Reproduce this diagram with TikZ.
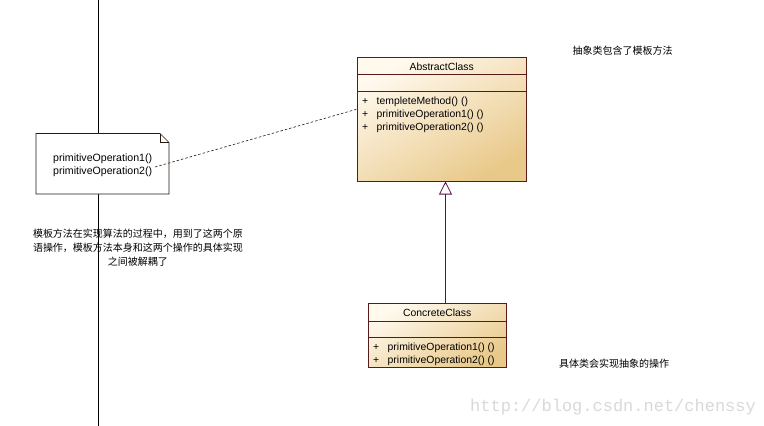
\documentclass[tikz,border=0pt]{standalone}
\usepackage{fontspec}
\setmainfont{Liberation Sans}
\newfontfamily\cjk{Noto Sans CJK SC}
\newfontfamily\wmfont{Liberation Mono}
\usetikzlibrary{arrows.meta}
\definecolor{umlborder}{HTML}{5A1A1A}
\definecolor{umllight}{HTML}{FFF9EE}
\definecolor{umldark}{HTML}{E9C98A}
\definecolor{genline}{HTML}{5A1048}
\tikzset{
  classbox/.style={draw=umlborder, line width=0.8pt, top color=umllight, bottom color=umldark, shading angle=30},
  umltext/.style={font=\fontsize{10.4}{12}\selectfont, inner sep=0pt, anchor=west},
  cjktext/.style={font=\cjk\fontsize{10}{13.7}\selectfont, inner sep=0pt, align=center},
  notebox/.style={draw=black!80!brown, fill=white, line width=0.6pt},
}
\begin{document}
\begin{tikzpicture}[x=1pt,y=-1pt]
\useasboundingbox (0,0) rectangle (764,426);
\fill[white] (0,0) rectangle (764,426);
% vertical line
\coordinate (vtop) at (98.3,0);
\coordinate (vbot) at (98.3,426);
\draw[black, line width=1pt] (vtop) -- (vbot);
% AbstractClass
\path[classbox] (357.5,57.5) rectangle (526,181.5);
\draw[umlborder, line width=0.8pt] (357.5,74.5) -- (526,74.5);
\draw[umlborder, line width=0.8pt] (357.5,91.5) -- (526,91.5);
\node[inner sep=0pt, font=\fontsize{10.4}{12}\selectfont] (abs) at (441.75,67) {AbstractClass};
\node[umltext] (a1p) at (362,101.5) {+};
\node[umltext] (a1) at (376.5,101.5) {templeteMethod() ()};
\node[umltext] (a2p) at (362,114.5) {+};
\node[umltext] (a2) at (376.5,114.5) {primitiveOperation1() ()};
\node[umltext] (a3p) at (362,127.5) {+};
\node[umltext] (a3) at (376.5,127.5) {primitiveOperation2() ()};
\coordinate (absleft) at (357.5,109);
\coordinate (absbottom) at (445.5,181.5);
% ConcreteClass
\path[classbox] (368.5,303.5) rectangle (506,367);
\draw[umlborder, line width=0.8pt] (368.5,321) -- (506,321);
\draw[umlborder, line width=0.8pt] (368.5,337.5) -- (506,337.5);
\node[inner sep=0pt, font=\fontsize{10.4}{12}\selectfont] (con) at (437.25,313) {ConcreteClass};
\node[umltext] (c1p) at (373,347.5) {+};
\node[umltext] (c1) at (387.5,347.5) {primitiveOperation1() ()};
\node[umltext] (c2p) at (373,360.5) {+};
\node[umltext] (c2) at (387.5,360.5) {primitiveOperation2() ()};
\coordinate (contop) at (445.5,303.5);
% generalization
\draw[genline, line width=0.8pt, -{Triangle[open, width=13pt, length=13pt, fill=white]}] (contop) -- (absbottom);
% note
\path[notebox] (36,133.5) -- (160,133.5) -- (169,142.5) -- (169,194) -- (36,194) -- cycle;
\draw[black!80!brown, line width=0.6pt] (160,133.5) -- (160,142.5) -- (169,142.5);
\node[inner sep=0pt, font=\fontsize{10.6}{13}\selectfont, align=left, anchor=west] (note) at (53,165.5) {primitiveOperation1()\\primitiveOperation2()};
\coordinate (noteend) at (155,167);
\draw[black!80!brown, line width=0.6pt, dash pattern=on 2.5pt off 2pt] (noteend) -- (absleft);
% cjk texts
\node[cjktext] (c1txt) at (138,247.5) {模板方法在实现算法的过程中，用到了这两个原\\语操作，模板方法本身和这两个操作的具体实现\\之间被解耦了};
\node[cjktext] (t1) at (622.5,50.5) {抽象类包含了模板方法};
\node[cjktext] (t2) at (614,363.5) {具体类会实现抽象的操作};
% watermark
\node[inner sep=0pt, anchor=west, text=black!15, font=\wmfont\fontsize{17}{17}\selectfont] (wm) at (470,407) {http://blog.csdn.net/chenssy};
\end{tikzpicture}
\end{document}
